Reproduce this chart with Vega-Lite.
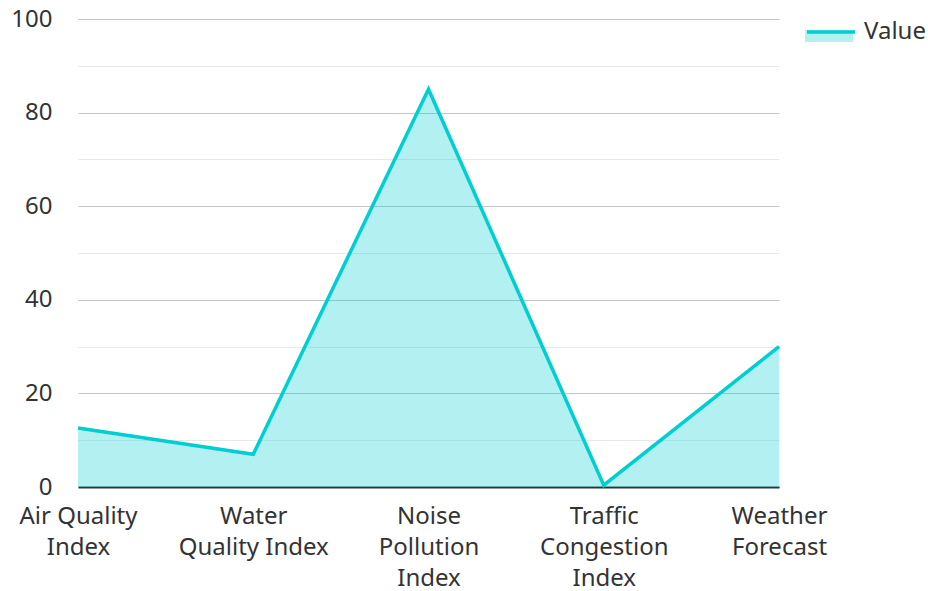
{
  "$schema": "https://vega.github.io/schema/vega-lite/v6.json",
  "width": 701,
  "height": 468,
  "autosize": {"type": "none"},
  "padding": {"left": 78, "top": 19, "right": 149, "bottom": 104},
  "background": "white",
  "config": {
    "font": "Noto Sans",
    "view": {"stroke": null},
    "axis": {"labelFont": "Noto Sans", "labelColor": "#333333", "labelFontSize": 24, "title": null}
  },
  "data": {
    "values": [
      {"category": "Air Quality Index", "value": 12.6, "series": "Value"},
      {"category": "Water Quality Index", "value": 7, "series": "Value"},
      {"category": "Noise Pollution Index", "value": 85, "series": "Value"},
      {"category": "Traffic Congestion Index", "value": 0.4, "series": "Value"},
      {"category": "Weather Forecast", "value": 30, "series": "Value"}
    ]
  },
  "encoding": {
    "x": {
      "field": "category",
      "type": "nominal",
      "sort": null,
      "scale": {"type": "point", "padding": 0},
      "axis": {
        "labelAngle": 0,
        "ticks": false,
        "grid": false,
        "domainColor": "#333333",
        "domainWidth": 2,
        "labelPadding": 17,
        "labelLineHeight": 31,
        "labelBaseline": "top",
        "labelExpr": "{'Air Quality Index': ['Air Quality', 'Index'], 'Water Quality Index': ['Water', 'Quality Index'], 'Noise Pollution Index': ['Noise', 'Pollution', 'Index'], 'Traffic Congestion Index': ['Traffic', 'Congestion', 'Index'], 'Weather Forecast': ['Weather', 'Forecast']}[datum.value]"
      }
    },
    "y": {
      "field": "value",
      "type": "quantitative",
      "scale": {"domain": [0, 100], "nice": false},
      "axis": {
        "values": [0, 10, 20, 30, 40, 50, 60, 70, 80, 90, 100],
        "domain": false,
        "ticks": false,
        "labelPadding": 26,
        "labelExpr": "datum.value % 20 === 0 ? datum.label : ''",
        "gridColor": {"condition": {"test": "datum.value % 20 === 0", "value": "#c4c4c4"}, "value": "#e8e8e8"},
        "gridWidth": 1.2
      }
    }
  },
  "layer": [
    {
      "mark": {"type": "area", "fillOpacity": 0.3},
      "encoding": {
        "fill": {
          "field": "series",
          "type": "nominal",
          "scale": {"range": ["#00CED1"]},
          "legend": {
            "title": null,
            "orient": "none",
            "legendX": 727,
            "legendY": -13,
            "symbolType": "M-1,0H1V0.5H-1Z",
            "symbolSize": 2304,
            "symbolOpacity": 0.3,
            "symbolStrokeWidth": 0,
            "labelFontSize": 24,
            "labelColor": "transparent",
            "labelOffset": 7,
            "labelFont": "Noto Sans"
          }
        }
      }
    },
    {
      "mark": {"type": "line", "strokeWidth": 3.5},
      "encoding": {
        "stroke": {
          "field": "series",
          "type": "nominal",
          "scale": {"range": ["#00CED1"]},
          "legend": {
            "title": null,
            "orient": "none",
            "legendX": 727,
            "legendY": -13,
            "symbolType": "M-1,0H1",
            "symbolSize": 2304,
            "symbolStrokeWidth": 3.5,
            "labelFontSize": 24,
            "labelColor": "#333333",
            "labelOffset": 7,
            "labelFont": "Noto Sans"
          }
        }
      }
    }
  ],
  "resolve": {"scale": {"fill": "independent", "stroke": "independent"}}
}
